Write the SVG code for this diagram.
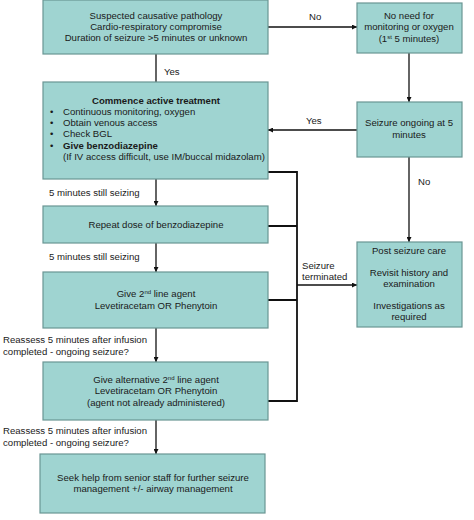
<svg xmlns="http://www.w3.org/2000/svg" width="474" height="520" viewBox="0 0 474 520">
<defs>
<marker id="ah" viewBox="0 0 6 6" refX="6" refY="3" markerWidth="5" markerHeight="5" orient="auto" markerUnits="userSpaceOnUse">
<path d="M0,0 L6,3 L0,6 Z" fill="#111"/>
</marker>
<style>
.box{fill:#9fd4d1;stroke:#6a9693;stroke-width:1.2}
text{font-family:"Liberation Sans",Arial,sans-serif;font-size:9.6px;fill:#1a1a1a}
.c{text-anchor:middle}
.b{font-weight:bold}
.ln{stroke:#111;stroke-width:1.3;fill:none}
.br{stroke:#111;stroke-width:1.8;fill:none}
</style>
</defs>
<rect width="474" height="520" fill="#fff"/>
<g id="connectors">
<line class="ln" x1="268" y1="27" x2="357" y2="27" marker-end="url(#ah)"/>
<line class="ln" x1="156" y1="54" x2="156" y2="82"/>
<line class="ln" x1="409" y1="53" x2="409" y2="102" marker-end="url(#ah)"/>
<line class="ln" x1="357" y1="130" x2="268" y2="130" marker-end="url(#ah)"/>
<line class="ln" x1="409" y1="157" x2="409" y2="242" marker-end="url(#ah)"/>
<line class="ln" x1="156" y1="179" x2="156" y2="206" marker-end="url(#ah)"/>
<line class="ln" x1="156" y1="243" x2="156" y2="272" marker-end="url(#ah)"/>
<line class="ln" x1="156" y1="328" x2="156" y2="362" marker-end="url(#ah)"/>
<line class="ln" x1="156" y1="420" x2="156" y2="454" marker-end="url(#ah)"/>
<path class="br" d="M268,172 H297 V401 H268 M268,226 H297 M268,300 H297"/>
<line class="ln" x1="297" y1="285" x2="357" y2="285" marker-end="url(#ah)"/>
<text x="309" y="20">No</text>
<text x="164" y="75">Yes</text>
<text x="306" y="124">Yes</text>
<text x="418" y="185">No</text>
<text x="49" y="196">5 minutes still seizing</text>
<text x="49" y="260">5 minutes still seizing</text>
<text x="302" y="269">Seizure</text>
<text x="302" y="280">terminated</text>
<text x="3" y="343">Reassess 5 minutes after infusion</text>
<text x="3" y="355">completed - ongoing seizure?</text>
<text x="3" y="434">Reassess 5 minutes after infusion</text>
<text x="3" y="446">completed - ongoing seizure?</text>
</g>
<g id="n1">
<rect class="box" x="43" y="0" width="225" height="54"/>
<text class="c" x="156" y="19">Suspected causative pathology</text>
<text class="c" x="156" y="30">Cardio-respiratory compromise</text>
<text class="c" x="156" y="41">Duration of seizure &gt;5 minutes or unknown</text>
</g>
<g id="n2">
<rect class="box" x="357" y="3" width="105" height="50"/>
<text class="c" x="409" y="19">No need for</text>
<text class="c" x="409" y="30">monitoring or oxygen</text>
<text class="c" x="409" y="42">(1<tspan font-size="6" dy="-3">st</tspan><tspan dy="3"> 5 minutes)</tspan></text>
</g>
<g id="n3">
<rect class="box" x="43" y="82" width="225" height="97"/>
<text class="c b" x="156" y="104">Commence active treatment</text>
<text x="50" y="115">•</text><text x="63" y="115">Continuous monitoring, oxygen</text>
<text x="50" y="126">•</text><text x="63" y="126">Obtain venous access</text>
<text x="50" y="137">•</text><text x="63" y="137">Check BGL</text>
<text x="50" y="149">•</text><text class="b" x="63" y="149">Give benzodiazepine</text>
<text x="63" y="160">(If IV access difficult, use IM/buccal midazolam)</text>
</g>
<g id="n4">
<rect class="box" x="357" y="102" width="105" height="55"/>
<text class="c" x="409" y="126">Seizure ongoing at 5</text>
<text class="c" x="409" y="138">minutes</text>
</g>
<g id="n5">
<rect class="box" x="43" y="206" width="225" height="37"/>
<text class="c" x="156" y="228">Repeat dose of benzodiazepine</text>
</g>
<g id="n6">
<rect class="box" x="357" y="242" width="105" height="85"/>
<text class="c" x="409" y="254">Post seizure care</text>
<text class="c" x="409" y="276">Revisit history and</text>
<text class="c" x="409" y="287">examination</text>
<text class="c" x="409" y="309">Investigations as</text>
<text class="c" x="409" y="320">required</text>
</g>
<g id="n7">
<rect class="box" x="43" y="272" width="225" height="56"/>
<text class="c" x="156" y="297">Give 2<tspan font-size="6" dy="-3">nd</tspan><tspan dy="3"> line agent</tspan></text>
<text class="c" x="156" y="309">Levetiracetam OR Phenytoin</text>
</g>
<g id="n8">
<rect class="box" x="43" y="362" width="225" height="58"/>
<text class="c" x="156" y="383">Give alternative 2<tspan font-size="6" dy="-3">nd</tspan><tspan dy="3"> line agent</tspan></text>
<text class="c" x="156" y="394">Levetiracetam OR Phenytoin</text>
<text class="c" x="156" y="406">(agent not already administered)</text>
</g>
<g id="n9">
<rect class="box" x="40" y="454" width="225" height="59"/>
<text class="c" x="153" y="481">Seek help from senior staff for further seizure</text>
<text class="c" x="153" y="492">management +/- airway management</text>
</g>
</svg>
